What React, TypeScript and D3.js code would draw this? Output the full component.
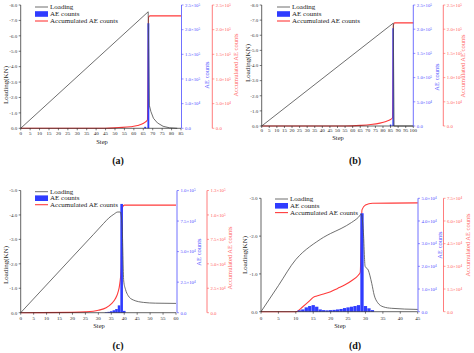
import * as d3 from 'd3';

// ---------- panel (a) ----------
const xTicksA = [0, 5, 10, 15, 20, 25, 30, 35, 40, 45, 50, 55, 60, 65, 70, 75, 80, 85];
const loadStepsA = [0, 67.6, 68.2, 69, 70.4, 72.5, 75.5, 79, 83];
const loadA = [0, -7.56, -1.5, -1.1, -0.65, -0.35, -0.13, -0.03, 0];
const barStepsA = [66, 67.7];
const barA = [3000, 213000];
const accStepsA = [0, 45, 52, 58, 62, 64, 66, 67.2, 67.8, 68.5, 85];
const accA = [0, 0, 1500, 3000, 5500, 8000, 12500, 17000, 225000, 228000, 228000];

// ---------- panel (b) ----------
const xTicksB = [0, 5, 10, 15, 20, 25, 30, 35, 40, 45, 50, 55, 60, 65, 70, 75, 80, 85, 90, 95, 100];
const loadStepsB = [0, 86.8, 87.3, 100];
const loadB = [0, -6.8, 0, 0];
const barStepsB = [85, 86.7];
const barB = [3000, 202000];
const accStepsB = [0, 55, 65, 72, 78, 82, 85, 86.3, 86.9, 87.6, 100];
const accB = [0, 0, 1200, 3000, 6000, 9500, 13500, 17000, 208000, 213000, 213000];

// ---------- panel (c) ----------
const xTicksC = [0, 5, 10, 15, 20, 25, 30, 35, 40, 45, 50, 55, 60];
const loadStepsC = [0, 20, 28, 32, 34, 36, 37.5, 38.5, 39.2, 39.8, 40.5, 41.5, 43.5, 47.5, 52, 60];
const loadC = [0, -2.28, -3.19, -3.65, -3.87, -4.03, -4.12, -4.12, -3.5, -1.3, -0.95, -0.7, -0.52, -0.42, -0.39, -0.38];
const barStepsC = [33, 34, 35, 36, 37, 38, 39, 40];
const barC = [400, 700, 1200, 2000, 3000, 6000, 89000, 1500];
const accStepsC = [0, 20, 25, 30, 33, 35, 36.5, 37.5, 38.3, 38.8, 39.2, 40, 60];
const accC = [0, 300, 800, 2500, 5000, 9000, 14000, 20000, 30000, 45000, 107000, 110000, 110000];

// ---------- panel (d) ----------
const xTicksD = [0, 5, 10, 15, 20, 25, 30, 35, 40, 45];
const loadStepsD = [0, 5, 10, 12, 14, 16, 18, 20, 23, 26, 28, 28.8, 29.4, 29.9, 30.8, 31.8, 32.5, 33.5, 35.1, 37.5, 45];
const loadD = [0, -0.69, -1.38, -1.57, -1.72, -1.85, -1.97, -2.07, -2.2, -2.36, -2.5, -2.58, -2.1, -1.2, -1.1, -0.75, -0.44, -0.24, -0.13, -0.09, -0.06];
const barStepsD = [11, 12, 13, 14, 15, 16, 17, 18, 19, 20, 21, 22, 23, 24, 25, 26, 27, 28, 29, 30, 31, 32];
const barD = [600, 1000, 1900, 2500, 2900, 2200, 1000, 700, 600, 700, 800, 1000, 1200, 1600, 1900, 2200, 2500, 2900, 43400, 2500, 1500, 700];
const accStepsD = [0, 10, 12, 14, 15, 16, 18, 20, 22, 24, 26, 28, 28.5, 29, 30, 32, 45];
const accD = [0, 0, 3300, 7300, 9500, 10400, 11700, 13200, 15400, 17600, 20500, 24300, 26000, 67300, 70600, 71700, 72000];

// ---------- tick labels ----------
const load8Ticks = [0, -1, -2, -3, -4, -5, -6, -7, -8];
const load8Labels = ['0.0', '-1.0', '-2.0', '-3.0', '-4.0', '-5.0', '-6.0', '-7.0', '-8.0'];
const load5Ticks = [0, -1, -2, -3, -4, -5];
const load5Labels = ['0.0', '-1.0', '-2.0', '-3.0', '-4.0', '-5.0'];
const load3Ticks = [0, -1, -2, -3];
const load3Labels = ['0.0', '-1.0', '-2.0', '-3.0'];
const ae25Ticks = [0, 50000, 100000, 150000, 200000, 250000];
const ae25Labels = ['0.0', '5.0×10⁴', '1.0×10⁵', '1.5×10⁵', '2.0×10⁵', '2.5×10⁵'];
const aeCTicks = [0, 25000, 50000, 75000, 100000];
const aeCLabels = ['0.0', '2.5×10⁴', '5.0×10⁴', '7.5×10⁴', '1.0×10⁵'];
const accCTicks = [0, 25000, 50000, 75000, 100000, 125000];
const accCLabels = ['0.0', '2.5×10⁴', '5.0×10⁴', '7.5×10⁴', '1.0×10⁵', '1.3×10⁵'];
const aeDTicks = [0, 10000, 20000, 30000, 40000, 50000];
const aeDLabels = ['0.0', '1.0×10⁴', '2.0×10⁴', '3.0×10⁴', '4.0×10⁴', '5.0×10⁴'];
const accDTicks = [0, 15000, 30000, 45000, 60000, 75000];
const accDLabels = ['0.0', '1.5×10⁴', '3.0×10⁴', '4.5×10⁴', '6.0×10⁴', '7.5×10⁴'];

const legendLabels = ['Loading', 'AE counts', 'Accumulated AE counts'];

const GREY = '#4a4a4a';
const BLUE = '#2f3cff';
const BLUE_AX = '#4d4dff';
const RED = '#ff3a3a';
const RED_AX = '#ff5c5c';
const FONT = '"Liberation Serif", "Times New Roman", serif';

type Pt = [number, number];
const zip = (a: number[], b: number[]): Pt[] => a.map((s, i) => [s, b[i]]);

function Panel(p: any) {
  const x = d3.scaleLinear().domain([0, p.xMax]).range([p.x0, p.x1]);
  const yL = d3.scaleLinear().domain([0, p.loadMin]).range([p.yBot, p.yTop]);
  const yB = d3.scaleLinear().domain([0, p.aeMax]).range([p.yBot, p.yTop]);
  const yR = d3.scaleLinear().domain([0, p.accMax]).range([p.yBot, p.yTop]);

  // loading is straight where the specimen is elastic, so (a)/(b) use plain segments
  const loadLine = d3.line<Pt>().x((d) => x(d[0])).y((d) => yL(d[1]))
    .curve(p.straight ? d3.curveLinear : d3.curveMonotoneX);
  const accLine = d3.line<Pt>().x((d) => x(d[0])).y((d) => yR(d[1])).curve(d3.curveMonotoneX);
  const bw = x(p.barW) - x(0);

  return (
    <g fontFamily={FONT}>
      <path d={accLine(zip(p.accS, p.accV)) ?? ''} fill="none" stroke={RED} strokeWidth={1.1} />
      {p.barS.map((s: number, i: number) => (
        <rect key={i} x={x(s) - bw / 2} y={yB(p.barV[i])} width={bw} height={p.yBot - yB(p.barV[i])} fill={BLUE} />
      ))}
      <path d={loadLine(zip(p.loadS, p.loadV)) ?? ''} fill="none" stroke={GREY} strokeWidth={0.8} />

      {/* x axis */}
      <line x1={p.x0} x2={p.x1} y1={p.yBot} y2={p.yBot} stroke="#222" strokeWidth={0.7} />
      {p.xTicks.map((t: number) => (
        <g key={t}>
          <line x1={x(t)} x2={x(t)} y1={p.yBot} y2={p.yBot + 2} stroke="#222" strokeWidth={0.6} />
          <text x={x(t)} y={p.tickY} fontSize={5} textAnchor="middle" fill="#222">{t}</text>
        </g>
      ))}
      <text x={p.stepX} y={p.stepY} fontSize={6.5} textAnchor="middle" fill="#222">Step</text>

      {/* loading axis */}
      <line x1={p.x0} x2={p.x0} y1={p.yTop} y2={p.yBot} stroke="#222" strokeWidth={0.7} />
      {p.loadTicks.map((t: number, i: number) => (
        <g key={t}>
          <line x1={p.x0 - 2} x2={p.x0} y1={yL(t)} y2={yL(t)} stroke="#222" strokeWidth={0.6} />
          <text x={p.x0 - 3.5} y={yL(t) + 1.8} fontSize={5} textAnchor="end" fill="#333">{p.loadLabels[i]}</text>
        </g>
      ))}
      <text transform={`translate(${p.loadTitle[0]},${p.loadTitle[1]}) rotate(-90)`} fontSize={7} textAnchor="middle" dy="0.35em" fill="#222">Loading(KN)</text>

      {/* AE axis */}
      <line x1={p.blueX} x2={p.blueX} y1={p.yTop} y2={p.yBot} stroke={BLUE_AX} strokeWidth={0.8} />
      {p.aeTicks.map((t: number, i: number) => (
        <g key={t}>
          <line x1={p.blueX} x2={p.blueX + 2} y1={yB(t)} y2={yB(t)} stroke={BLUE_AX} strokeWidth={0.6} />
          <text x={p.blueX + 3.5} y={yB(t) + 1.8} fontSize={4.8} fill={BLUE_AX}>{p.aeLabels[i]}</text>
        </g>
      ))}
      <text transform={`translate(${p.aeTitle[0]},${p.aeTitle[1]}) rotate(-90)`} fontSize={6.5} textAnchor="middle" dy="0.35em" fill={BLUE_AX}>AE counts</text>

      {/* accumulated axis */}
      <line x1={p.redX} x2={p.redX} y1={p.yTop} y2={p.yBot} stroke={RED_AX} strokeWidth={0.8} />
      {p.accTicks.map((t: number, i: number) => (
        <g key={t}>
          <line x1={p.redX} x2={p.redX + 2} y1={yR(t)} y2={yR(t)} stroke={RED_AX} strokeWidth={0.6} />
          <text x={p.redX + 3.5} y={yR(t) + 1.8} fontSize={4.8} fill={RED_AX}>{p.accLabels[i]}</text>
        </g>
      ))}
      <text transform={`translate(${p.accTitle[0]},${p.accTitle[1]}) rotate(-90)`} fontSize={6.5} textAnchor="middle" dy="0.35em" fill={RED_AX}>Accumulated AE counts</text>

      {/* legend */}
      <g transform={`translate(${p.legend[0]},${p.legend[1]})`} fontSize={7}>
        <line x1={0} x2={13} y1={0} y2={0} stroke={GREY} strokeWidth={0.8} />
        <text x={15} y={2.3} fill="#222">{legendLabels[0]}</text>
        <rect x={0} y={p.legendGap - 2.8} width={13} height={5.6} fill={BLUE} />
        <text x={15} y={p.legendGap + 2.3} fill="#222">{legendLabels[1]}</text>
        <line x1={0} x2={13} y1={p.legendGap * 2} y2={p.legendGap * 2} stroke={RED} strokeWidth={1.1} />
        <text x={15} y={p.legendGap * 2 + 2.3} fill="#222">{legendLabels[2]}</text>
      </g>

      <text x={p.caption[0]} y={p.caption[1]} fontSize={10} fontWeight="bold" textAnchor="middle" fill="#111">{p.label}</text>
    </g>
  );
}

export default function App() {
  return (
    <svg width={474} height={353} viewBox="0 0 474 353" style={{ position: 'absolute', left: 0, top: 0, background: '#fff' }}>
      <Panel
        label="(a)" straight x0={20.7} x1={181} yTop={5} yBot={128.3} blueX={181.5} redX={212.3}
        xMax={85} xTicks={xTicksA} tickY={135} stepX={102} stepY={143.5}
        loadMin={-8} loadTicks={load8Ticks} loadLabels={load8Labels}
        aeMax={250000} aeTicks={ae25Ticks} aeLabels={ae25Labels}
        accMax={250000} accTicks={ae25Ticks} accLabels={ae25Labels}
        loadS={loadStepsA} loadV={loadA} barS={barStepsA} barV={barA} barW={1} accS={accStepsA} accV={accA}
        loadTitle={[6, 85]} aeTitle={[207, 75]} accTitle={[236, 65]}
        legend={[35, 7]} legendGap={7} caption={[118, 163.5]}
      />
      <Panel
        label="(b)" straight x0={261.7} x1={413.3} yTop={5} yBot={126} blueX={413.3} redX={443.3}
        xMax={100} xTicks={xTicksB} tickY={131.5} stepX={338} stepY={140}
        loadMin={-8} loadTicks={load8Ticks} loadLabels={load8Labels}
        aeMax={250000} aeTicks={ae25Ticks} aeLabels={ae25Labels}
        accMax={250000} accTicks={ae25Ticks} accLabels={ae25Labels}
        loadS={loadStepsB} loadV={loadB} barS={barStepsB} barV={barB} barW={1} accS={accStepsB} accV={accB}
        loadTitle={[248, 63]} aeTitle={[437, 77]} accTitle={[463, 66]}
        legend={[277, 7]} legendGap={7} caption={[355, 163.5]}
      />
      <Panel
        label="(c)" x0={20.7} x1={176} yTop={190.5} yBot={312.7} blueX={177} redX={207}
        xMax={60} xTicks={xTicksC} tickY={320} stepX={99} stepY={327.5}
        loadMin={-5} loadTicks={load5Ticks} loadLabels={load5Labels}
        aeMax={100000} aeTicks={aeCTicks} aeLabels={aeCLabels}
        accMax={125000} accTicks={accCTicks} accLabels={accCLabels}
        loadS={loadStepsC} loadV={loadC} barS={barStepsC} barV={barC} barW={1} accS={accStepsC} accV={accC}
        loadTitle={[6, 265]} aeTitle={[199, 252]} accTitle={[230, 258]}
        legend={[35, 191.7]} legendGap={6.5} caption={[118, 348.5]}
      />
      <Panel
        label="(d)" x0={261} x1={417.7} yTop={198.3} yBot={311.7} blueX={418} redX={443.5}
        xMax={45} xTicks={xTicksD} tickY={319.5} stepX={340} stepY={327.5}
        loadMin={-3} loadTicks={load3Ticks} loadLabels={load3Labels}
        aeMax={50000} aeTicks={aeDTicks} aeLabels={aeDLabels}
        accMax={75000} accTicks={accDTicks} accLabels={accDLabels}
        loadS={loadStepsD} loadV={loadD} barS={barStepsD} barV={barD} barW={0.95} accS={accStepsD} accV={accD}
        loadTitle={[245, 255]} aeTitle={[440, 245]} accTitle={[468, 245]}
        legend={[275, 199]} legendGap={6.8} caption={[355, 348.5]}
      />
    </svg>
  );
}
